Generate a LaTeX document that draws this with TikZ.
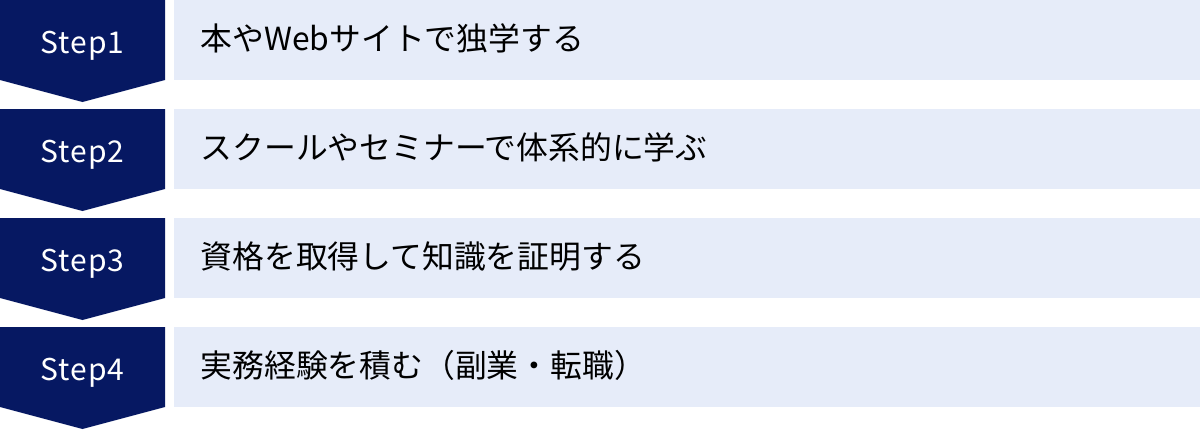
\documentclass[tikz,border=0pt]{standalone}
\usepackage{fontspec}
\setmainfont{Noto Sans CJK JP}
\definecolor{stepnavy}{HTML}{061862}
\definecolor{itemfill}{HTML}{E6ECF9}
\begin{document}
\begin{tikzpicture}[x=1pt,y=-1pt,
  stepshape/.style={fill=stepnavy,draw=none},
  itembox/.style={fill=itemfill,draw=none,anchor=north west,minimum width=1026pt,minimum height=80pt,inner sep=0pt,outer sep=0pt},
  steplabel/.style={text=white,font=\fontsize{30}{36}\selectfont\addfontfeature{LetterSpace=3.5},anchor=base,inner sep=0pt},
  itemlabel/.style={text=black,font=\fontsize{31.8}{38}\selectfont,anchor=base west,inner sep=0pt}]
\useasboundingbox (0,0) rectangle (1200,429);
\foreach \i/\y/\t in {1/0/本やWebサイトで独学する,2/109/スクールやセミナーで体系的に学ぶ,3/218/資格を取得して知識を証明する,4/327/実務経験を積む（副業・転職）}{
  \fill[stepshape] (0,\y) -- (165,\y) -- (165,\y+80) -- (82.5,\y+102) -- (0,\y+80) -- cycle;
  \node[itembox] (b\i) at (174,\y) {};
  \node[steplabel] (s\i) at (82.5,\y+53.3) {Step\i};
  \node[itemlabel] (t\i) at (200.5,\y+50) {\t};
}
\end{tikzpicture}
\end{document}
